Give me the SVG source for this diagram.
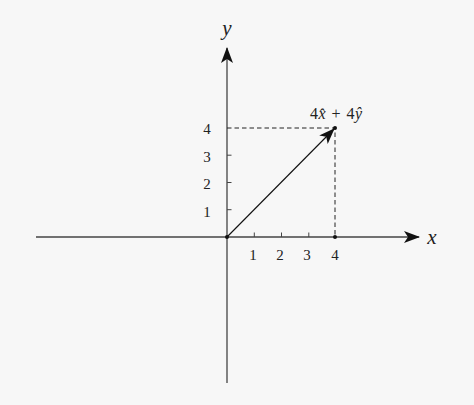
<svg xmlns="http://www.w3.org/2000/svg" width="474" height="405" viewBox="0 0 474 405">
<defs>
<style>
.ax{stroke:#444;stroke-width:1.3;fill:none}
.tk{stroke:#444;stroke-width:1;fill:none}
.ds{stroke:#222;stroke-width:1;stroke-dasharray:4.5,3;fill:none}
.num{font-family:"Liberation Serif","DejaVu Serif",serif;font-size:15px;fill:#222;text-anchor:middle}
.var{font-family:"Liberation Serif","DejaVu Serif",serif;font-style:italic;font-size:21px;fill:#222;text-anchor:middle}
.lbl{font-family:"Liberation Serif","DejaVu Serif",serif;font-size:16px;fill:#222;text-anchor:middle}
</style>
<marker id="stealth" viewBox="0 0 16 12" refX="15" refY="6" markerWidth="16" markerHeight="12" markerUnits="userSpaceOnUse" orient="auto">
<path d="M0,0 L16,6 L0,12 L4,6 Z" fill="#111"/>
</marker>
</defs>
<rect width="474" height="405" fill="#f7f7f7"/>
<g id="connectors">
<line class="ax" x1="36" y1="237" x2="419" y2="237" marker-end="url(#stealth)"/>
<line class="ax" x1="227" y1="383" x2="227" y2="48" marker-end="url(#stealth)"/>
<path class="ds" d="M227,128 H335 V237"/>
<line x1="227" y1="237" x2="334" y2="129" stroke="#111" stroke-width="1.1" marker-end="url(#stealth)"/>
</g>
<g id="ticks">
<path class="tk" d="M254.3,237V232.5 M281.5,237V232.5 M308.8,237V232.5 M227,209.7H231.5 M227,182.5H231.5 M227,155.2H231.5"/>
</g>
<g id="points">
<circle cx="227" cy="237" r="2" fill="#111"/>
<circle cx="335" cy="237" r="2" fill="#111"/>
<circle cx="335" cy="128" r="2" fill="#111"/>
</g>
<g id="x-labels">
<text class="num" x="253" y="260">1</text>
<text class="num" x="280" y="260">2</text>
<text class="num" x="307" y="260">3</text>
<text class="num" x="335" y="260">4</text>
</g>
<g id="y-labels">
<text class="num" x="207" y="217">1</text>
<text class="num" x="207" y="189">2</text>
<text class="num" x="207" y="162">3</text>
<text class="num" x="207" y="134">4</text>
</g>
<g id="axis-names">
<text class="var" x="432" y="244">x</text>
<text class="var" x="227" y="35">y</text>
</g>
<g id="vector-label">
<text class="lbl" x="336" y="119">4<tspan font-style="italic" dx="0.5">x̂</tspan><tspan dx="6">+</tspan><tspan dx="6">4</tspan><tspan font-style="italic" dx="0.5">ŷ</tspan></text>
</g>
</svg>
